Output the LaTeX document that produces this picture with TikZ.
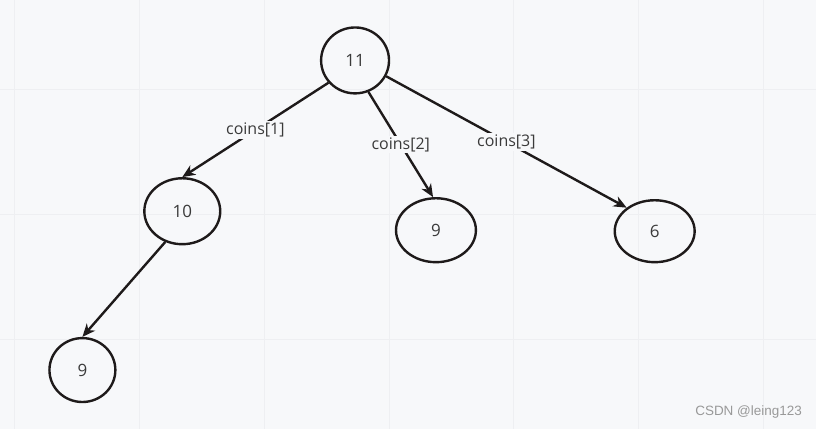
\documentclass[tikz,border=0pt]{standalone}
\usepackage{fontspec}
\setmainfont{Open Sans}
\newfontfamily\markfont{Liberation Sans}
\usetikzlibrary{scopes,arrows.meta,shapes.geometric}

\definecolor{paper}{HTML}{F7F8FA}
\definecolor{rule}{HTML}{EEEFF2}
\definecolor{ink}{HTML}{1E1A1A}
\definecolor{txt}{HTML}{3A3A3A}

\tikzset{
  coin/.style={ellipse, draw=ink, line width=2.4pt, inner sep=0pt,
    text=txt, font=\fontsize{17}{17}\selectfont},
  lbl/.style={fill=paper, inner sep=1.5pt, text=txt,
    font=\fontsize{16}{16}\selectfont},
}

\begin{document}
\begin{tikzpicture}[x=1pt,y=-1pt]
  \fill[paper] (0,0) rectangle (816,429);
  { [rule, line width=1pt]
    \foreach \x in {14,139,...,764} \draw (\x,0) -- (\x,429);
    \foreach \y in {89,214,339} \draw (0,\y) -- (816,\y);
  }
  % the tree
  \node[coin, minimum width=68, minimum height=66] (n11) at (355,60) {11};
  \node[coin, minimum width=76, minimum height=66] (n10) at (182,211) {10};
  \node[coin, minimum width=80, minimum height=64] (n9a) at (436,230) {9};
  \node[coin, minimum width=80, minimum height=62] (n6) at (655,231) {6};
  \node[coin, minimum width=66, minimum height=64] (n9b) at (82,370) {9};
  { [draw=ink, line width=2.4pt, -{Stealth[length=13pt,width=11pt,inset=4pt]}]
    \draw (n11.220) -- node[lbl] {coins[1]} (n10.north);
    \draw (n11.293) -- node[lbl] {coins[2]} (n9a.95);
    \draw (n11.333) -- node[lbl] {coins[3]} (n6.140);
    \draw (n10.241) -- (n9b.north);
  }
  \node[text=black!40, font=\markfont\fontsize{13.5}{13.5}\selectfont] (mark) at (749,412) {CSDN @leing123};
\end{tikzpicture}
\end{document}
